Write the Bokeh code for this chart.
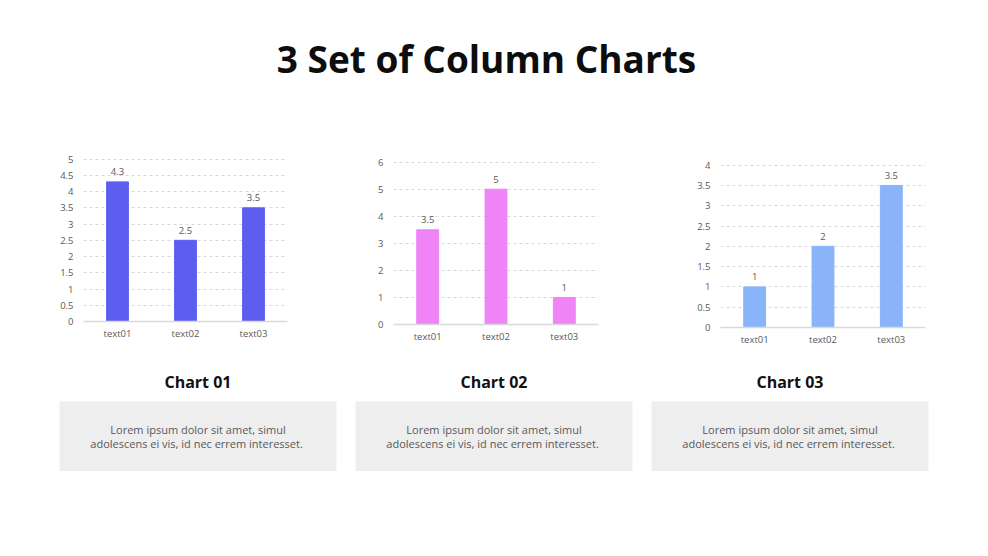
from bokeh.plotting import figure
from bokeh.layouts import column, row
from bokeh.models import Range1d, FactorRange, FixedTicker, NumeralTickFormatter, Spacer
from bokeh.core.properties import value
from bokeh.embed import file_html
from bokeh.resources import INLINE

# ---------------- data ----------------
title_text = "3 Set of Column Charts"
categories = ["text01", "text02", "text03"]

chart1_values = [4.3, 2.5, 3.5]
chart2_values = [3.5, 5, 1]
chart3_values = [1, 2, 3.5]

chart1_yticks = [0, 0.5, 1, 1.5, 2, 2.5, 3, 3.5, 4, 4.5, 5]
chart2_yticks = [0, 1, 2, 3, 4, 5, 6]
chart3_yticks = [0, 0.5, 1, 1.5, 2, 2.5, 3, 3.5, 4]

chart_titles = ["Chart 01", "Chart 02", "Chart 03"]
desc_line1 = "Lorem ipsum dolor sit amet, simul"
desc_line2 = "adolescens ei vis, id nec errem  interesset."

# ---------------- styles ----------------
FONT = value("Open Sans")
GRAY_TXT = "#595959"
GRID = "#d9d9d9"
COLORS = ["#5d5ef0", "#ee84f5", "#89b4f9"]
TOTAL_W = 980


def bar_chart(vals, yticks, color, width, bl, br, off):
    ymax = yticks[-1]
    p = figure(x_range=FactorRange(*categories), y_range=Range1d(0, ymax * 1.004),
               width=width, height=209, output_backend="svg", toolbar_location=None,
               min_border_left=bl, min_border_right=br, min_border_top=18, min_border_bottom=28)
    p.outline_line_color = None
    p.background_fill_color = "white"
    p.border_fill_color = "white"
    p.vbar(x=categories, top=vals, width=0.32, color=color)
    p.text(x=categories, y=vals, text=[f"{v:g}" for v in vals], text_align="center",
           text_baseline="alphabetic", y_offset=-10, text_font=FONT,
           text_font_size="9.5px", text_color=GRAY_TXT)
    p.xgrid.visible = False
    p.ygrid.grid_line_color = GRID
    p.ygrid.grid_line_dash = "3 3"
    p.ygrid.grid_line_width = 1
    p.yaxis.ticker = FixedTicker(ticks=yticks)
    p.yaxis.formatter = NumeralTickFormatter(format="0.[0]")
    p.yaxis.axis_line_color = None
    p.yaxis.major_label_standoff = 10
    p.xaxis.axis_line_color = GRID
    p.xaxis.axis_line_width = 1.5
    p.xaxis.major_label_standoff = 5
    for ax in (p.xaxis, p.yaxis):
        ax.major_tick_line_color = None
        ax.minor_tick_line_color = None
        ax.major_tick_out = 0
        ax.major_tick_in = 0
        ax.minor_tick_out = 0
        ax.major_label_text_font = "Open Sans"
        ax.major_label_text_font_size = "9.5px"
        ax.major_label_text_color = GRAY_TXT
    kids = []
    if off > 0:
        kids.append(Spacer(width=width, height=off))
    kids.append(p)
    if 6 - off > 0:
        kids.append(Spacer(width=width, height=6 - off))
    return column(*kids, spacing=0)


c1 = bar_chart(chart1_values, chart1_yticks, COLORS[0], 328, 83, 41, 0)
c2 = bar_chart(chart2_values, chart2_yticks, COLORS[1], 330, 65, 60, 3)
c3 = bar_chart(chart3_values, chart3_yticks, COLORS[2], 322, 62, 55, 6)


def canvas(h):
    p = figure(x_range=Range1d(0, TOTAL_W), y_range=Range1d(h, 0), width=TOTAL_W, height=h,
               output_backend="svg", toolbar_location=None, min_border=0,
               x_axis_type=None, y_axis_type=None)
    p.outline_line_color = None
    p.grid.visible = False
    p.background_fill_color = "white"
    p.border_fill_color = "white"
    return p


# header
header = canvas(140)
header.text(x=[486], y=[57.5], text=[title_text], text_align="center", text_baseline="alphabetic",
            text_font=FONT, text_font_style="bold", text_font_size="37px", text_color="#0d0d0d")

# footer
footer = canvas(193)
box_cx = [197.5, 493.5, 789.5]
footer.rect(x=box_cx, y=[80.75] * 3, width=[277] * 3, height=[69.5] * 3,
            fill_color="#eeeeee", line_color=None)
footer.text(x=box_cx, y=[26] * 3, text=chart_titles, text_align="center",
            text_baseline="alphabetic", text_font=FONT, text_font_style="bold",
            text_font_size="16px", text_color="#111111")
footer.text(x=box_cx, y=[73.5] * 3, text=[desc_line1] * 3, text_align="center",
            text_baseline="alphabetic", text_font=FONT, text_font_size="11px",
            text_color=GRAY_TXT)
footer.text(x=box_cx, y=[87.5] * 3, text=[desc_line2] * 3, text_align="center",
            text_baseline="alphabetic", text_font=FONT, text_font_size="11px",
            text_color=GRAY_TXT)

layout = column(header, row(c1, c2, c3, spacing=0), footer, spacing=0)

open("out.html", "w").write(file_html(layout, INLINE))
